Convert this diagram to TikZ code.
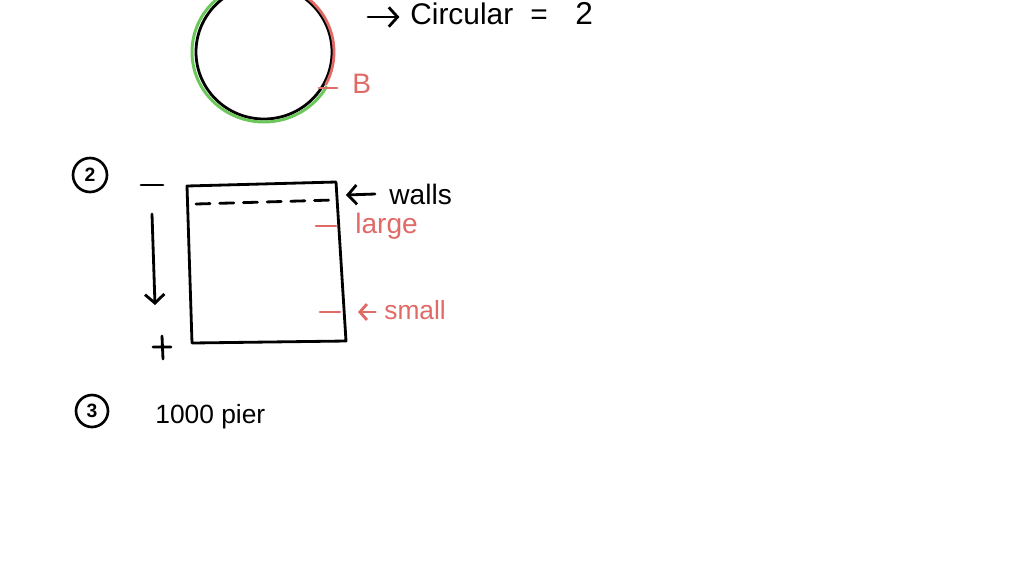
\documentclass[tikz,border=0pt]{standalone}
\usepackage{fontspec}
\setmainfont{Liberation Sans}
\usetikzlibrary{arrows.meta}
\definecolor{redpen}{HTML}{E06A66}
\definecolor{greenpen}{HTML}{6CC75A}
\begin{document}
\begin{tikzpicture}[x=0.02cm,y=-0.02cm,line cap=round,line join=round,
  ink/.style={draw=black,line width=1.6pt},
  redink/.style={draw=redpen,line width=1.6pt},
  greenink/.style={draw=greenpen,line width=1.7pt},
  arr/.style={ink,-{Straight Barb[length=5pt,width=11pt]}},
  redarr/.style={redink,-{Straight Barb[length=4pt,width=9pt]}},
  lbl/.style={inner sep=0pt,font=\fontsize{16}{19}\selectfont},
  redlbl/.style={lbl,text=redpen},
  num/.style={circle,draw=black,line width=1.5pt,inner sep=0pt,font=\fontsize{11}{13}\selectfont\bfseries}]
\clip (0,0) rectangle (1024,576);
\fill[white] (0,0) rectangle (1024,576);
% circle sketch
\draw[ink] (264,52) ellipse [x radius=68, y radius=67];
\draw[greenink] (264,52) +(230:72 and 70) arc[start angle=230,end angle=30,x radius=72,y radius=70];
\draw[redink] (264,52) +(-55:70 and 69) arc[start angle=-55,end angle=28,x radius=70,y radius=69];
\coordinate (Bl) at (319,88);
\coordinate (Br) at (337,88);
\draw[redink] (Bl) -- (Br);
\node[redlbl,anchor=west] (B) at (352,84) {B};
% top text
\node[lbl,anchor=base west,font=\fontsize{17}{20}\selectfont] (circ) at (410,24) {Circular};
\node[lbl,anchor=base west,font=\fontsize{17}{20}\selectfont] (eq) at (530,24) {=};
\node[lbl,anchor=base west,font=\fontsize{18}{21}\selectfont] (two) at (575,24) {2};
\coordinate (arrS) at (368,17);
\draw[arr] (arrS) -- ([xshift=-6pt]circ.west |- arrS);
% section 2
\node[num,minimum size=34*0.02cm] (n2) at (90,175) {2};
\coordinate (mA) at (141,185); \coordinate (mB) at (163,185);
\draw[ink] (mA) -- (mB);
\coordinate (dA) at (152,214); \coordinate (dB) at (155,305);
\draw[arr] (dA) -- (dB);
\coordinate (pA) at (153,347); \coordinate (pB) at (171,347);
\coordinate (pC) at (162,336); \coordinate (pD) at (163,359);
\draw[ink] (pA) -- (pB) (pC) -- (pD);
\coordinate (tl) at (187,186); \coordinate (tr) at (336,182);
\coordinate (br) at (346,341); \coordinate (bl) at (192,343);
\draw[ink] (tl) -- (tr) -- (br) -- (bl) -- cycle;
\coordinate (dl) at (196,204); \coordinate (dr) at (333,200);
\draw[ink,dash pattern=on 8pt off 5.5pt] (dl) -- (dr);
\node[lbl,anchor=west] (walls) at (389,194) {walls};
\coordinate (wtip) at (346,195);
\draw[arr] ([xshift=-8pt]walls.west) -- (wtip);
\coordinate (lA) at (316,226); \coordinate (lB) at (336,226);
\draw[redink] (lA) -- (lB);
\node[redlbl,anchor=west] (large) at (355,226) {large};
\coordinate (sA) at (320,312); \coordinate (sB) at (340,312);
\draw[redink] (sA) -- (sB);
\node[redlbl,anchor=west,font=\fontsize{15}{18}\selectfont] (small) at (384,310) {small};
\coordinate (stip) at (358,312);
\draw[redarr] ([xshift=-5pt]small.west |- stip) -- (stip);
% section 3
\node[num,minimum size=32*0.02cm] (n3) at (92,411) {3};
\node[lbl,anchor=base west,font=\fontsize{15}{18}\selectfont] (pier) at (155,423) {1000 pier};
\end{tikzpicture}
\end{document}
